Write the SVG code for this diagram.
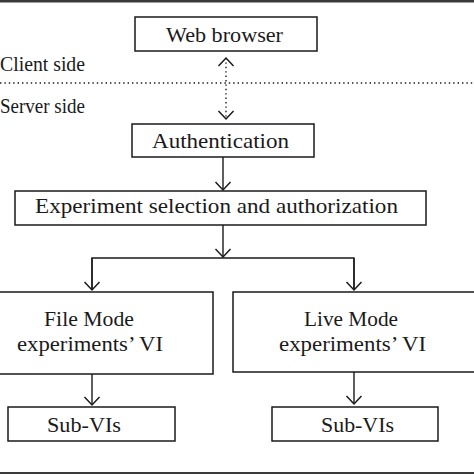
<svg xmlns="http://www.w3.org/2000/svg" width="474" height="474" viewBox="0 0 474 474">
<defs>
<style>
.box{fill:#fff;stroke:#1a1a1a;stroke-width:1.5}
.t{font-family:"Liberation Serif","Times New Roman",serif;font-size:22px;fill:#1a1a1a;text-anchor:middle}
.tl{font-family:"Liberation Serif","Times New Roman",serif;font-size:22px;fill:#1a1a1a}
.ln{fill:none;stroke:#1a1a1a;stroke-width:1.4}
.dot{fill:none;stroke:#1a1a1a;stroke-width:1.4;stroke-dasharray:1.4 3}
</style>
<marker id="ah" markerWidth="12" markerHeight="18" refX="10" refY="9" orient="auto-start-reverse" markerUnits="userSpaceOnUse" viewBox="0 0 12 18">
<path d="M2,1.5 L10,9 L2,16.5" fill="none" stroke="#1a1a1a" stroke-width="1.5"/>
</marker>
</defs>
<rect x="0" y="0" width="474" height="474" fill="#fff"/>
<rect x="0" y="0" width="474" height="2.5" fill="#3a3a3a"/>
<rect x="0" y="472" width="474" height="2" fill="#3a3a3a"/>
<g id="side-labels">
<text class="tl" x="0" y="71" textLength="85" lengthAdjust="spacingAndGlyphs">Client side</text>
<text class="tl" x="0" y="113" textLength="85" lengthAdjust="spacingAndGlyphs">Server side</text>
<line class="dot" x1="0" y1="83" x2="474" y2="83"/>
</g>
<g id="connectors">
<line class="dot" x1="226" y1="58" x2="226" y2="119" marker-start="url(#ah)" marker-end="url(#ah)"/>
<line class="ln" x1="223" y1="157" x2="223" y2="190" marker-end="url(#ah)"/>
<line class="ln" x1="223" y1="225" x2="223" y2="257" marker-end="url(#ah)"/>
<polyline class="ln" points="92,290 92,258 354,258 354,290"/>
<line class="ln" x1="92" y1="258" x2="92" y2="290" marker-end="url(#ah)"/>
<line class="ln" x1="354" y1="258" x2="354" y2="290" marker-end="url(#ah)"/>
<line class="ln" x1="92" y1="374" x2="92" y2="405" marker-end="url(#ah)"/>
<line class="ln" x1="354" y1="372" x2="354" y2="404" marker-end="url(#ah)"/>
</g>
<g id="web-browser">
<rect class="box" x="135" y="17" width="182" height="34"/>
<text class="t" x="224.5" y="42" textLength="117" lengthAdjust="spacingAndGlyphs">Web browser</text>
</g>
<g id="authentication">
<rect class="box" x="132" y="124" width="182" height="33"/>
<text class="t" x="220.5" y="148" textLength="137" lengthAdjust="spacingAndGlyphs">Authentication</text>
</g>
<g id="experiment-selection">
<rect class="box" x="15" y="191" width="411" height="34"/>
<text class="t" x="216.5" y="213" textLength="363" lengthAdjust="spacingAndGlyphs">Experiment selection and authorization</text>
</g>
<g id="file-mode">
<rect class="box" x="-2" y="292" width="215" height="82"/>
<text class="t" x="89" y="326" textLength="90" lengthAdjust="spacingAndGlyphs">File Mode</text>
<text class="t" x="90" y="351" textLength="146" lengthAdjust="spacingAndGlyphs">experiments’ VI</text>
</g>
<g id="live-mode">
<rect class="box" x="233" y="292" width="245" height="80"/>
<text class="t" x="351" y="326" textLength="94" lengthAdjust="spacingAndGlyphs">Live Mode</text>
<text class="t" x="352.5" y="351" textLength="147" lengthAdjust="spacingAndGlyphs">experiments’ VI</text>
</g>
<g id="sub-vis-file">
<rect class="box" x="8" y="407" width="167" height="34"/>
<text class="t" x="84" y="432" textLength="74" lengthAdjust="spacingAndGlyphs">Sub-VIs</text>
</g>
<g id="sub-vis-live">
<rect class="box" x="272" y="407" width="166" height="34"/>
<text class="t" x="357.5" y="432" textLength="73" lengthAdjust="spacingAndGlyphs">Sub-VIs</text>
</g>
</svg>
